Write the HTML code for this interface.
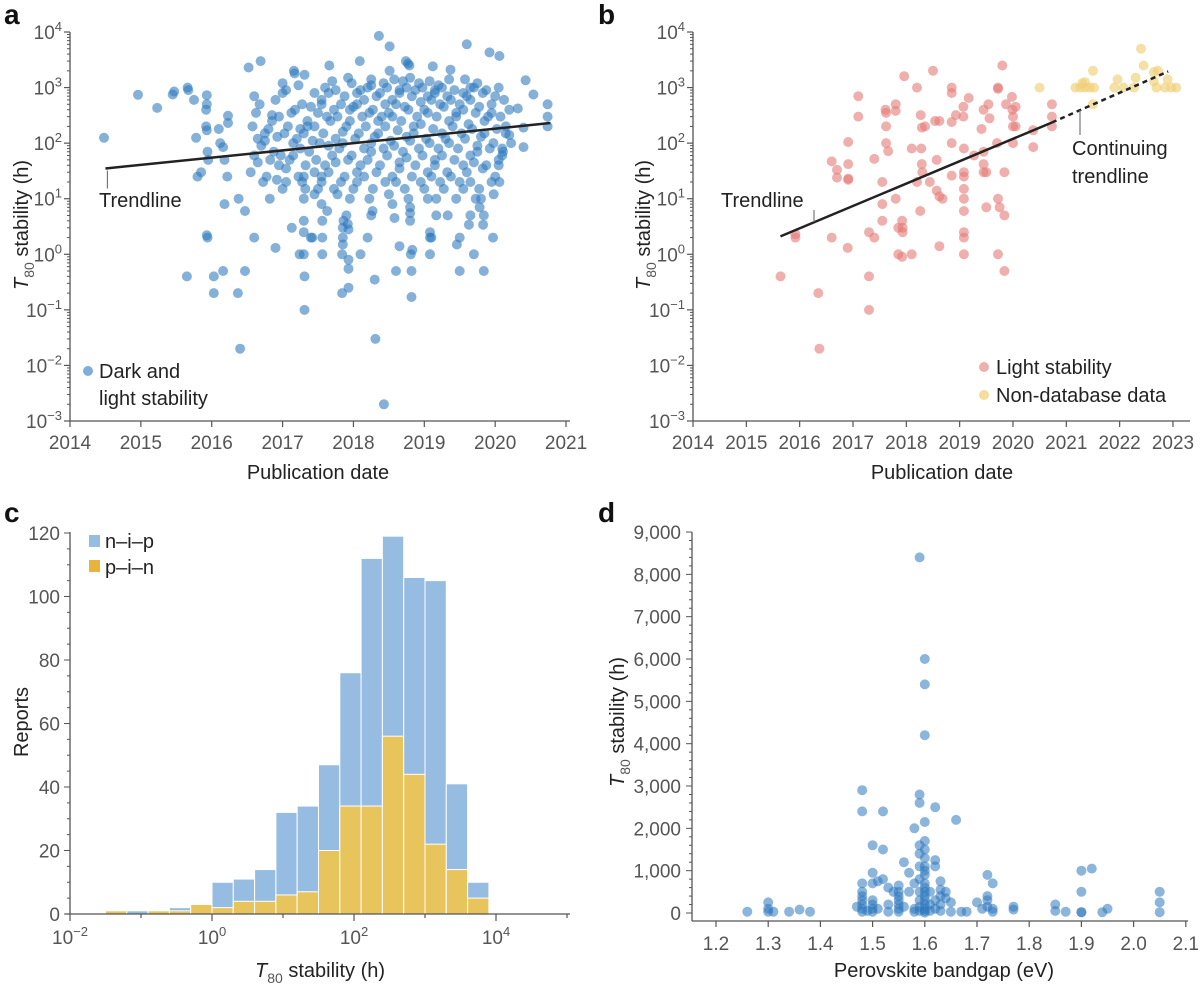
<!DOCTYPE html>
<html><head><meta charset="utf-8"><style>
html,body{margin:0;padding:0;background:#fff;}
svg{display:block;font-family:"Liberation Sans",sans-serif;}
.tk{font-size:19px;fill:#555;}
.tt{font-size:20px;fill:#222;}
.pl{font-size:28px;font-weight:bold;fill:#111;}
</style></head><body>
<svg id="fig" width="1200" height="996" viewBox="0 0 1200 996">
<text class="pl" x="4" y="24">a</text>
<text class="pl" x="598" y="24">b</text>
<text class="pl" x="4" y="522">c</text>
<text class="pl" x="598" y="522">d</text>
</svg>
<script>
// ---------- Panel a data ----------
const aYears=[2014.48,2014.96,2015.23,2015.45,2015.47,2015.66,2015.67,2015.75,2015.78,2015.8,2015.85,2015.65,2015.93,2015.93,2015.92,2015.93,2015.94,2015.92,2015.93,2015.94,2015.95,2016.03,2016.03,2016.16,2016.18,2016.1,2016.12,2016.16,2016.18,2016.22,2016.23,2016.23,2016.38,2016.37,2016.4,2016.47,2016.47,2016.52,2016.6,2016.6,2016.69,2016.9,2016.92,2016.82,2017.0,2017.13,2017.16,2017.17,2017.24,2017.3,2017.31,2017.31,2017.3,2017.3,2017.3,2017.3,2017.32,2017.31,2017.4,2017.42,2017.45,2017.56,2017.56,2017.56,2017.55,2017.63,2017.66,2017.84,2017.84,2017.85,2017.85,2017.85,2017.86,2017.9,2017.93,2017.93,2017.93,2017.92,2017.93,2018.09,2018.1,2018.2,2018.27,2018.25,2018.3,2018.31,2018.36,2018.43,2018.51,2018.51,2018.6,2018.65,2018.58,2018.74,2018.77,2018.79,2018.82,2018.82,2018.81,2018.83,2018.8,2018.8,2018.8,2019.08,2019.08,2019.08,2019.1,2019.12,2019.17,2019.17,2019.33,2019.37,2019.46,2019.5,2019.5,2019.6,2019.63,2019.65,2019.7,2019.84,2019.83,2019.84,2019.8,2019.78,2019.92,2020.06,2019.97,2019.98,2020.06,2020.11,2020.1,2020.4,2020.43,2020.54,2020.32,2020.4,2020.74,2020.74,2020.74,2020.2];
const aValues=[125,740,430,750,850,1000,900,600,125,25,30,0.4,730,500,400,2.2,2,200,170,70,50,0.4,0.2,0.5,8,180,100,85,50,25,310,230,10,0.2,0.02,0.5,6,2300,700,2,3000,1.3,22,10,1200,3,2000,1800,1,1,0.1,0.4,4,2.5,10,25,15,1700,2,2,12,1,2,4,8,6,2500,0.2,1,1.5,2,3,4,5,0.55,0.8,0.25,3.5,2.8,3000,1,2,6,5,0.35,0.03,8500,0.002,5500,2000,0.5,1.4,4.5,3000,2700,2500,0.17,0.5,1,1.2,4,5.5,7,1,2.5,2,2,2400,10,5,5,2100,1.5,2,0.5,6000,3.4,5,1,0.5,3.4,5,10,7,4300,3700,2,12,20,70,60,85,1350,750,420,190,500,300,200,140];
const cloudYears=[2016.6,2016.7,2016.8,2016.9,2017.0,2017.1,2017.2,2017.3,2017.4,2017.5,2017.6,2017.7,2017.8,2017.9,2018.0,2018.1,2018.2,2018.3,2018.4,2018.5,2018.6,2018.7,2018.8,2018.9,2019.0,2019.1,2019.2,2019.3,2019.4,2019.5,2019.6,2019.7,2019.8,2019.9,2020.0,2020.1,2020.2];
const cloudValues=[[30,60,120,200,350],[20,45,90,150,500],[25,50,110,180,320],[40,70,130,250,600],[15,35,60,150,300,800],[20,50,100,200,350,900],[25,60,120,180,400,1100],[20,40,80,150,250,500],[30,70,110,200,450,800],[15,25,50,100,200,350,600],[20,40,90,150,300,500,1000],[15,30,60,120,250,400,800,1300],[12,20,45,80,160,300,500,900],[10,25,50,100,200,400,700,1500],[15,30,60,120,250,450,800,1200],[20,40,80,150,300,500,900],[10,25,50,100,200,350,600,1000,1400],[15,30,70,130,250,400,700,1100],[20,40,80,150,300,500,800,1200],[12,25,60,110,200,350,600,1000],[8,20,45,90,170,300,500,900,1400],[15,35,70,130,250,450,800,1300],[10,25,55,110,200,400,700,1000,1500],[20,40,80,150,300,550,900,1200],[15,30,60,120,220,400,700,1000],[10,25,50,100,180,350,600,900,1300],[20,40,80,150,300,500,800,1100],[15,30,60,120,250,450,700,1000],[10,25,50,100,200,350,600,900,1400],[20,40,80,150,300,500,800],[15,30,60,120,220,400,700,1000,1400],[10,20,45,90,180,350,600,1000],[15,35,70,130,250,450,800,1200],[20,40,80,150,300,500,900],[25,50,100,180,350,700,1000],[40,80,150,300,600],[100,200,400]];
const aTrendYears=[2014.5,2020.78];
const aTrendValues=[35,230];
const aXTicks=[2014,2015,2016,2017,2018,2019,2020,2021];
const logTicks=[4,3,2,1,0,-1,-2,-3];

// ---------- Panel b data ----------
const bRedYears=[2015.64,2015.92,2015.92,2016.35,2016.37,2016.6,2016.6,2016.7,2016.7,2016.9,2016.91,2016.91,2016.91,2016.91,2017.1,2017.1,2017.3,2017.3,2017.3,2017.4,2017.4,2017.55,2017.55,2017.55,2017.61,2017.62,2017.62,2017.62,2017.66,2017.8,2017.8,2017.8,2017.85,2017.85,2017.92,2017.93,2017.93,2017.92,2017.96,2018.1,2018.1,2018.2,2018.2,2018.26,2018.27,2018.28,2018.29,2018.29,2018.3,2018.35,2018.44,2018.5,2018.54,2018.57,2018.57,2018.62,2018.62,2018.62,2018.68,2018.85,2018.85,2018.85,2018.85,2018.85,2018.93,2019.07,2019.07,2019.08,2019.08,2019.08,2019.08,2019.08,2019.08,2019.08,2019.08,2019.08,2019.17,2019.27,2019.41,2019.45,2019.45,2019.45,2019.45,2019.5,2019.54,2019.56,2019.5,2019.7,2019.72,2019.72,2019.72,2019.72,2019.75,2019.84,2019.84,2019.8,2019.84,2019.87,2019.98,2019.99,2020.0,2020.0,2020.0,2020.05,2020.05,2020.38,2020.38,2020.73,2020.73,2020.73];
const bRedValues=[0.4,2.3,2,0.2,0.02,47,2,33,24,1.3,105,42,22,23,700,300,2.5,0.4,0.1,52,2,20,8,4,400,350,200,100,72,500,380,10,3,1,4,3,2.5,0.9,1600,80,1,1000,20,6,320,80,190,42,30,200,20,2000,250,50,14,250,11,1.4,10,1000,800,240,100,26,320,450,300,80,30,25,15,10,6,2.5,2,1,650,60,180,400,70,42,30,30,500,280,7,100,1000,950,10,1,7,5,0.5,2500,30,500,680,400,300,200,100,450,200,170,85,500,300,200];
const bYellowYears=[2020.5,2021.17,2021.26,2021.35,2021.44,2021.52,2021.3,2021.35,2021.5,2021.5,2021.9,2022.07,2022.27,2021.96,2022.3,2022.4,2022.45,2022.64,2022.72,2022.64,2022.69,2022.9,2022.85,2022.97,2023.06];
const bYellowValues=[1000,1000,1000,1000,1000,1000,1200,1250,2000,500,1000,1000,1000,1400,1500,5000,2500,1900,2000,1300,1000,1400,1000,1000,1000];
const bTrendYears=[2015.64,2020.73];
const bTrendValues=[2.1,235];
const bDashYears=[2020.73,2022.91];
const bDashValues=[235,1950];
const bXTicks=[2014,2015,2016,2017,2018,2019,2020,2021,2022,2023];

// ---------- Panel c data ----------
const cBinStarts=[-1.5,-1.2,-0.9,-0.6,-0.3,0,0.3,0.6,0.9,1.2,1.5,1.8,2.1,2.4,2.7,3.0,3.3,3.6];
const cTotal=[1,1,1,2,3,10,11,14,32,34,47,76,112,119,106,105,41,10];
const cPin=[1,0,1,1,3,2,4,4,6,7,20,34,34,56,44,22,14,5];
const cYTicks=[0,20,40,60,80,100,120];
const cXTicks=[-2,0,2,4];

// ---------- Panel d data ----------
const dGaps=[1.26,1.30,1.30,1.30,1.31,1.34,1.36,1.38,1.47,1.48,1.48,1.48,1.48,1.48,1.48,1.48,1.48,1.48,1.49,1.50,1.50,1.50,1.50,1.50,1.50,1.50,1.51,1.51,1.52,1.52,1.52,1.53,1.53,1.53,1.54,1.55,1.55,1.55,1.55,1.55,1.55,1.55,1.56,1.56,1.57,1.57,1.58,1.58,1.58,1.58,1.59,1.59,1.59,1.59,1.59,1.59,1.59,1.59,1.59,1.59,1.59,1.60,1.60,1.60,1.60,1.60,1.60,1.60,1.60,1.60,1.60,1.60,1.60,1.60,1.60,1.60,1.60,1.60,1.60,1.60,1.61,1.61,1.61,1.62,1.62,1.62,1.62,1.62,1.63,1.63,1.63,1.63,1.63,1.64,1.64,1.65,1.65,1.66,1.67,1.68,1.70,1.71,1.72,1.72,1.72,1.72,1.73,1.73,1.73,1.77,1.77,1.85,1.85,1.87,1.90,1.90,1.90,1.90,1.92,1.94,1.95,2.05,2.05,2.05];
const dValues=[30,250,100,30,30,30,80,30,150,2900,2400,700,500,400,300,200,100,30,50,1600,950,700,300,200,100,30,750,100,2400,1500,800,600,200,30,500,650,500,400,300,200,100,30,1200,150,950,500,2000,700,100,30,8400,2800,2600,1600,1400,1100,800,500,300,150,50,6000,5400,4200,2150,1700,1500,1300,1100,1000,900,700,600,500,400,300,200,100,50,10,500,200,50,2500,1250,1100,300,100,750,550,400,200,50,500,350,250,30,2200,30,30,250,100,900,400,300,150,700,100,30,150,80,200,50,30,1000,500,20,20,1050,20,100,500,250,20];
const dXTicks=[1.2,1.3,1.4,1.5,1.6,1.7,1.8,1.9,2.0,2.1];
const dYTicks=[0,1000,2000,3000,4000,5000,6000,7000,8000,9000];

// ---------- Scales ----------
const yLog=v=>32+(4-Math.log10(v))*55.57;
const yLogE=e=>32+(4-e)*55.57;
const xA=y=>70+(y-2014)*70.86;
const xB=y=>693+(y-2014)*53.33;
const xC=l=>70+(l+2)*71;
const yC=n=>914-n*3.175;
const xD=e=>716+(e-1.2)*522;
const yD=t=>913-t*0.04233;

const NS='http://www.w3.org/2000/svg';
const svg=document.getElementById('fig');
function mk(tag,parent){const el=document.createElementNS(NS,tag);(parent||svg).appendChild(el);return el;}
function set(el,o){for(const k in o)el.setAttribute(k,o[k]);return el;}
function line(g,x1,y1,x2,y2,w,col){const l=set(mk('line',g),{x1,y1,x2,y2,stroke:col||'#555','stroke-width':w||1.3});return l;}

function logYAxis(g,x,name){
  const ax=line(g,x,32,x,421,1.3);
  
  
  for(const e of logTicks){
    const y=yLogE(e);
    line(g,x-6,y,x,y,1.2);
    const t=set(mk('text',g),{x:x-8,y:y+7,'text-anchor':'end',class:'tk'});
    
    
    t.textContent='10';
    const s=set(mk('tspan',t),{dy:-8,'font-size':13});
    s.textContent=String(e).replace('-','\u2212');
    if(e>-3){for(let m=2;m<10;m++){const yy=yLogE(e-1)-Math.log10(m)*55.57;line(g,x-3,yy,x,yy,1);}}
  }
}
function yTitle(g,x,y,name){
  const t=set(mk('text',g),{transform:`translate(${x},${y}) rotate(-90)`,'text-anchor':'middle',class:'tt'});
  
  
  const i=set(mk('tspan',t),{'font-style':'italic'});i.textContent='T';
  const s=set(mk('tspan',t),{dy:6,'font-size':14,fill:'#555'});s.textContent='80';
  const r=set(mk('tspan',t),{dy:-6});r.textContent=' stability (h)';
}
function plainText(g,x,y,txt,cls,anchor,name){
  const t=set(mk('text',g),{x,y,class:cls,'text-anchor':anchor||'start'});
  
  
  t.textContent=txt;return t;
}
function dot(g,x,y,col,op,name){
  const c=set(mk('circle',g),{cx:x.toFixed(1),cy:y.toFixed(1),r:5,fill:col,'fill-opacity':op});
  
  
  return c;
}

// ===== Panel a =====
const ga=mk('g');


logYAxis(ga,70,'a-y-axis');
const axa=line(ga,70,421,570,421,1.3);


aXTicks.forEach(yr=>{const x=xA(yr);line(ga,x,421,x,427,1.2);plainText(ga,x,449,String(yr),'tk','middle','a-x-tick-label');});
const aBlue='#2d79bd';
cloudYears.forEach((yr,i)=>cloudValues[i].forEach((v,j)=>{
  const sh=((j*7+i*3)%5-2)*0.025;
  dot(ga,xA(yr+sh),yLog(v),aBlue,0.58,'a-point');
}));
aYears.forEach((yr,i)=>dot(ga,xA(yr),yLog(aValues[i]),aBlue,0.58,'a-point'));
const ta=line(ga,xA(aTrendYears[0]),yLog(aTrendValues[0]),xA(aTrendYears[1]),yLog(aTrendValues[1]),2.5,'#222');


line(ga,xA(aTrendYears[0])+2,yLog(aTrendValues[0])+2,xA(aTrendYears[0])+2,yLog(aTrendValues[0])+20,1.2,'#777');
plainText(ga,99,207,'Trendline','tt','start','a-trendline-label');
dot(ga,88,371,'#6b9fd3',0.85,'a-legend-marker');
plainText(ga,99,378,'Dark and','tt','start','a-legend-text');
plainText(ga,99,405,'light stability','tt','start','a-legend-text-2');
plainText(ga,318,479,'Publication date','tt','middle','a-x-axis-title');
yTitle(ga,28,225,'a-y-axis-title');

// ===== Panel b =====
const gb=mk('g');


logYAxis(gb,693,'b-y-axis');
const axb=line(gb,693,421,1190,421,1.3);


bXTicks.forEach(yr=>{const x=xB(yr);line(gb,x,421,x,427,1.2);plainText(gb,x,449,String(yr),'tk','middle','b-x-tick-label');});
bRedYears.forEach((yr,i)=>dot(gb,xB(yr),yLog(bRedValues[i]),'#e57b76',0.6,'b-light-point'));
bYellowYears.forEach((yr,i)=>dot(gb,xB(yr),yLog(bYellowValues[i]),'#f0cf74',0.65,'b-nondatabase-point'));
const tb=line(gb,xB(bTrendYears[0]),yLog(bTrendValues[0]),xB(bTrendYears[1]),yLog(bTrendValues[1]),2.5,'#222');


const db=line(gb,xB(bDashYears[0]),yLog(bDashValues[0]),xB(bDashYears[1]),yLog(bDashValues[1]),2.5,'#222');
db.setAttribute('stroke-dasharray','5,4');


line(gb,814,210,814,222,1.2,'#777');
plainText(gb,721,207,'Trendline','tt','start','b-trendline-label');
line(gb,1080,110,1080,135,1.2,'#777');
plainText(gb,1072,155,'Continuing','tt','start','b-continuing-label');
plainText(gb,1072,183,'trendline','tt','start','b-continuing-label-2');
dot(gb,984,367,'#e57b76',0.6,'b-legend-light-marker');
plainText(gb,996,374,'Light stability','tt','start','b-legend-light-text');
dot(gb,984,395,'#f0cf74',0.7,'b-legend-nondb-marker');
plainText(gb,996,402,'Non-database data','tt','start','b-legend-nondb-text');
plainText(gb,942,479,'Publication date','tt','middle','b-x-axis-title');
yTitle(gb,650,225,'b-y-axis-title');

// ===== Panel c =====
const gc=mk('g');


const bw=0.3;
cBinStarts.forEach((s,i)=>{
  const x0=xC(s),x1=xC(s+bw);
  const r1=set(mk('rect',gc),{x:x0,y:yC(cTotal[i]),width:x1-x0,height:yC(0)-yC(cTotal[i]),fill:'#96bde1',stroke:'#fff','stroke-width':1});
  
  
  const r2=set(mk('rect',gc),{x:x0,y:yC(cPin[i]),width:x1-x0,height:yC(0)-yC(cPin[i]),fill:'#e8c45c',stroke:'#fff','stroke-width':1});
  
  
});
const cya=line(gc,70,532,70,914,1.3);


const cxa=line(gc,65,914,570,914,1.3);


for(let n=0;n<=120;n+=5){line(gc,n%20?67:64,yC(n),70,yC(n),1);}
cYTicks.forEach(n=>plainText(gc,60,yC(n)+7,String(n),'tk','end','c-y-tick-label'));
for(let e=-2;e<=5;e++){line(gc,xC(e),914,xC(e),e%2?918:921,1.2);}
cXTicks.forEach(e=>{
  const t=plainText(gc,xC(e),944,'10','tk','middle','c-x-tick-label');
  const s=set(mk('tspan',t),{dy:-8,'font-size':13});s.textContent=String(e).replace('-','\u2212');
});
const lc1=set(mk('rect',gc),{x:89,y:535,width:11,height:12,fill:'#96bde1'});


plainText(gc,105,548,'n\u2013i\u2013p','tt','start','c-legend-nip-text');
const lc2=set(mk('rect',gc),{x:89,y:560,width:11,height:12,fill:'#e8b43c'});


plainText(gc,105,574,'p\u2013i\u2013n','tt','start','c-legend-pin-text');
const rp=set(mk('text',gc),{transform:'translate(28,722) rotate(-90)','text-anchor':'middle',class:'tt'});


rp.textContent='Reports';
const ct=set(mk('text',gc),{x:320,y:977,'text-anchor':'middle',class:'tt'});


const ci=set(mk('tspan',ct),{'font-style':'italic'});ci.textContent='T';
const cs=set(mk('tspan',ct),{dy:6,'font-size':14,fill:'#555'});cs.textContent='80';
const cr=set(mk('tspan',ct),{dy:-6});cr.textContent=' stability (h)';

// ===== Panel d =====
const gd=mk('g');


const dya=line(gd,692,532,692,921,1.3);


const dxa=line(gd,692,921,1188,921,1.3);


for(let t=0;t<=9000;t+=200){line(gd,t%1000?689:686,yD(t),692,yD(t),1);}
dYTicks.forEach(t=>plainText(gd,681,yD(t)+7,t.toLocaleString('en-US'),'tk','end','d-y-tick-label'));
dXTicks.forEach(e=>{const x=xD(e);line(gd,x,921,x,927,1.2);plainText(gd,x,950,e.toFixed(1),'tk','middle','d-x-tick-label');});
dGaps.forEach((e,i)=>dot(gd,xD(e),yD(dValues[i]),aBlue,0.55,'d-point'));
plainText(gd,944,977,'Perovskite bandgap (eV)','tt','middle','d-x-axis-title');
yTitle(gd,624,722,'d-y-axis-title');
</script>
</body></html>
